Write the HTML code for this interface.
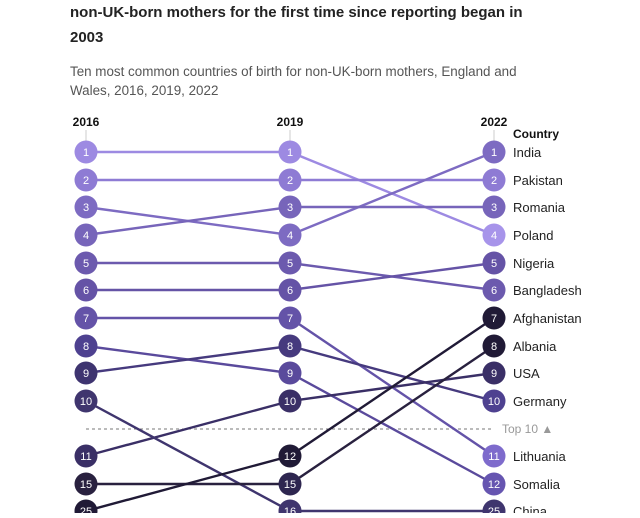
<!DOCTYPE html>
<html><head><style>
body{margin:0;width:640px;height:513px;overflow:hidden;background:#fff;font-family:"Liberation Sans",sans-serif}
</style></head><body>
<svg width="640" height="513" xmlns="http://www.w3.org/2000/svg" font-family="Liberation Sans, sans-serif">
<text x="70" y="17" font-size="15" font-weight="bold" fill="#222">non-UK-born mothers for the first time since reporting began in</text>
<text x="70" y="42" font-size="15" font-weight="bold" fill="#222">2003</text>
<text x="70" y="76" font-size="13.4" fill="#555">Ten most common countries of birth for non-UK-born mothers, England and</text>
<text x="70" y="95" font-size="13.4" fill="#555">Wales, 2016, 2019, 2022</text>
<g font-size="12" font-weight="bold" fill="#111" text-anchor="middle">
<text x="86" y="126">2016</text><text x="290" y="126">2019</text><text x="494" y="126">2022</text></g>
<g stroke="#ccc"><line x1="86" y1="130" x2="86" y2="141"/><line x1="290" y1="130" x2="290" y2="141"/><line x1="494" y1="130" x2="494" y2="141"/></g>
<text x="513" y="138" font-size="12" font-weight="bold" fill="#111">Country</text>
<line x1="86" y1="429" x2="494" y2="429" stroke="#777" stroke-dasharray="3,3"/>
<text x="502" y="433" font-size="12" fill="#999">Top 10 ▲</text>
<g fill="none" stroke-width="2.4">
<polyline stroke="#9d8ae2" points="86,152 290,152 494,235"/>
<polyline stroke="#8e7bd4" points="86,180 290,180 494,180"/>
<polyline stroke="#7d6bc2" points="86,207 290,235 494,152"/>
<polyline stroke="#7765ba" points="86,235 290,207 494,207"/>
<polyline stroke="#6c5aae" points="86,263 290,263 494,290"/>
<polyline stroke="#6553a6" points="86,290 290,290 494,263"/>
<polyline stroke="#6453a8" points="86,318 290,318 494,456"/>
<polyline stroke="#5a4a9c" points="86,346 290,373 494,484"/>
<polyline stroke="#463a7e" points="86,373 290,346 494,401"/>
<polyline stroke="#3a2f66" points="86,456 290,401 494,373"/>
<polyline stroke="#3f356e" points="86,401 290,511 494,511"/>
<polyline stroke="#29213f" points="86,484 290,484 494,346"/>
<polyline stroke="#201a36" points="86,511 290,456 494,318"/>
</g>
<g>
<circle cx="86" cy="152" r="11.5" fill="#9d8ae2"/><circle cx="290" cy="152" r="11.5" fill="#9d8ae2"/><circle cx="494" cy="235" r="11.5" fill="#a794ea"/>
<circle cx="86" cy="180" r="11.5" fill="#8e7bd4"/><circle cx="290" cy="180" r="11.5" fill="#8e7bd4"/><circle cx="494" cy="180" r="11.5" fill="#8e7bd4"/>
<circle cx="86" cy="207" r="11.5" fill="#7d6bc2"/><circle cx="290" cy="235" r="11.5" fill="#7d6bc2"/><circle cx="494" cy="152" r="11.5" fill="#7d6bc2"/>
<circle cx="86" cy="235" r="11.5" fill="#7765ba"/><circle cx="290" cy="207" r="11.5" fill="#7765ba"/><circle cx="494" cy="207" r="11.5" fill="#7765ba"/>
<circle cx="86" cy="263" r="11.5" fill="#6c5aae"/><circle cx="290" cy="263" r="11.5" fill="#6c5aae"/><circle cx="494" cy="290" r="11.5" fill="#6c5aae"/>
<circle cx="86" cy="290" r="11.5" fill="#6553a6"/><circle cx="290" cy="290" r="11.5" fill="#6553a6"/><circle cx="494" cy="263" r="11.5" fill="#6553a6"/>
<circle cx="86" cy="318" r="11.5" fill="#6453a8"/><circle cx="290" cy="318" r="11.5" fill="#6453a8"/><circle cx="494" cy="456" r="11.5" fill="#7e6bcc"/>
<circle cx="86" cy="346" r="11.5" fill="#4e4190"/><circle cx="290" cy="373" r="11.5" fill="#5a4a9c"/><circle cx="494" cy="484" r="11.5" fill="#6655b0"/>
<circle cx="86" cy="373" r="11.5" fill="#3e3470"/><circle cx="290" cy="346" r="11.5" fill="#463a7e"/><circle cx="494" cy="401" r="11.5" fill="#4e4190"/>
<circle cx="86" cy="456" r="11.5" fill="#3a2f66"/><circle cx="290" cy="401" r="11.5" fill="#3a2f66"/><circle cx="494" cy="373" r="11.5" fill="#3a2f66"/>
<circle cx="86" cy="401" r="11.5" fill="#3f356e"/><circle cx="290" cy="511" r="11.5" fill="#3f356e"/><circle cx="494" cy="511" r="11.5" fill="#3f356e"/>
<circle cx="86" cy="484" r="11.5" fill="#29213f"/><circle cx="290" cy="484" r="11.5" fill="#2e2650"/><circle cx="494" cy="346" r="11.5" fill="#201a36"/>
<circle cx="86" cy="511" r="11.5" fill="#201a36"/><circle cx="290" cy="456" r="11.5" fill="#201a36"/><circle cx="494" cy="318" r="11.5" fill="#201a36"/>
</g>
<g font-size="11" fill="#fff" text-anchor="middle">
<text x="86" y="156">1</text><text x="290" y="156">1</text><text x="494" y="239">4</text>
<text x="86" y="184">2</text><text x="290" y="184">2</text><text x="494" y="184">2</text>
<text x="86" y="211">3</text><text x="290" y="239">4</text><text x="494" y="156">1</text>
<text x="86" y="239">4</text><text x="290" y="211">3</text><text x="494" y="211">3</text>
<text x="86" y="267">5</text><text x="290" y="267">5</text><text x="494" y="294">6</text>
<text x="86" y="294">6</text><text x="290" y="294">6</text><text x="494" y="267">5</text>
<text x="86" y="322">7</text><text x="290" y="322">7</text><text x="494" y="460">11</text>
<text x="86" y="350">8</text><text x="290" y="377">9</text><text x="494" y="488">12</text>
<text x="86" y="377">9</text><text x="290" y="350">8</text><text x="494" y="405">10</text>
<text x="86" y="460">11</text><text x="290" y="405">10</text><text x="494" y="377">9</text>
<text x="86" y="405">10</text><text x="290" y="515">16</text><text x="494" y="515">25</text>
<text x="86" y="488">15</text><text x="290" y="488">15</text><text x="494" y="350">8</text>
<text x="86" y="515">25</text><text x="290" y="460">12</text><text x="494" y="322">7</text>
</g>
<g font-size="13" fill="#222">
<text x="513" y="157">India</text><text x="513" y="185">Pakistan</text><text x="513" y="212">Romania</text>
<text x="513" y="240">Poland</text><text x="513" y="268">Nigeria</text><text x="513" y="295">Bangladesh</text>
<text x="513" y="323">Afghanistan</text><text x="513" y="351">Albania</text><text x="513" y="378">USA</text>
<text x="513" y="406">Germany</text><text x="513" y="461">Lithuania</text><text x="513" y="489">Somalia</text>
<text x="513" y="516">China</text>
</g>
</svg>
</body></html>
